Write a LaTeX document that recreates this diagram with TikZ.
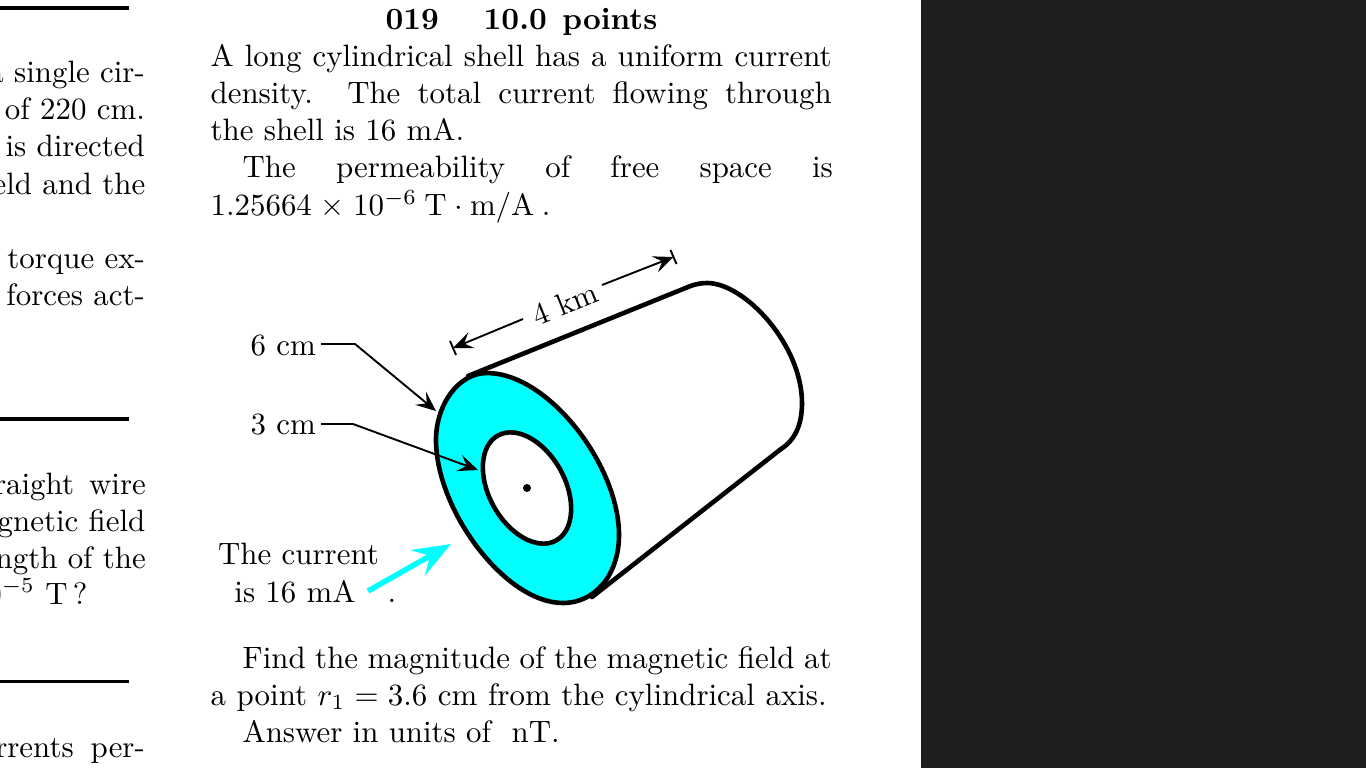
\documentclass[tikz,border=0pt]{standalone}
\usepackage{amsmath}
\usetikzlibrary{calc, arrows.meta}
\definecolor{panel}{HTML}{1E1E1E}
\definecolor{shellcyan}{HTML}{00FFFF}
\newcommand{\fullline}[2][201pt]{\hbox to #1{#2}}
\tikzset{
  bodytext/.style={anchor=base west, inner sep=0pt, scale=3.09},
  lefttext/.style={anchor=base east, inner sep=0pt, scale=3.09},
  midtext/.style={anchor=base, inner sep=0pt, scale=3.09},
  rulebar/.style={line width=3.2pt},
  shellline/.style={line width=4.6pt, line cap=round},
  leader/.style={line width=1.9pt, -{Stealth[length=20pt, width=17pt, inset=8pt]}},
  plainleader/.style={line width=1.9pt}
}
\begin{document}
\begin{tikzpicture}[x=1pt, y=-1pt]
    \useasboundingbox (0,0) rectangle (1366,768);
    \clip (0,0) rectangle (1366,768);
    \fill[panel] (921,0) rectangle (1366,768);

    % Define points
    \coordinate (O) at (527,488);
    \coordinate (P) at (468,376);
    \coordinate (Q) at (688,287);
    \coordinate (R) at (592,597);
    \coordinate (S) at (781,449);
    \coordinate (T1) at (453,348);
    \coordinate (T2) at (673.5,257);

    % Column rules
    \draw[rulebar] (0,8) -- (129,8);
    \draw[rulebar] (0,419) -- (129,419);
    \draw[rulebar] (0,681.5) -- (129,681.5);

    % Left column
    \node (cirA) at (145.5,82) [lefttext] {a single cir-};
    \node (cirB) at (145.5,119) [lefttext] {of 220 cm.};
    \node (cirC) at (145.5,156.5) [lefttext] {is directed};
    \node (cirD) at (146,194) [lefttext] {field and the};
    \node (cirE) at (145.5,268) [lefttext] {torque ex-};
    \node (cirF) at (145.5,305) [lefttext] {forces act-};
    \node (wireA) at (146.5,494) [lefttext] {straight\hspace{4.9pt}wire};
    \node (wireB) at (146,531) [lefttext] {magnetic field};
    \node (wireC) at (146.5,568) [lefttext] {length of the};
    \node (wireD) at (88,604) [lefttext] {$10^{-5}$ T\,?};
    \node (partA) at (145.5,757) [lefttext] {currents\hspace{5.5pt}per-};

    % Problem text
    \node (head) at (385,29.7) [bodytext] {\bfseries 019\hspace{14.5pt}10.0\hspace{5pt}points};
    \node (probA) at (210,66.7) [bodytext] {\fullline{A long cylindrical shell has a uniform current}};
    \node (probB) at (210,103.7) [bodytext] {\fullline{density. The total current flowing through}};
    \node (probC) at (210,140.7) [bodytext] {the shell is 16 mA.};
    \node (probD) at (242,177.7) [bodytext] {\fullline[191pt]{The permeability of free space is}};
    \node (probE) at (210,215.7) [bodytext] {$1.25664\mkern1mu\times\mkern1mu10^{-6}$\hspace{2.3pt}T\hspace{2.4pt}$\cdot$\hspace{2.4pt}m/A\hspace{2.4pt}.};
    \node (findA) at (242,668) [bodytext] {\fullline[190.6pt]{Find the magnitude of the magnetic field at}};
    \node (findB) at (210,705) [bodytext] {\fullline[199.4pt]{a point $r_1=3.6$ cm from the cylindrical axis.}};
    \node (findC) at (242,742) [bodytext] {Answer in units of \ nT.};

    % Draw shell
    \draw[shellline] (Q) -- (P);
    \draw[shellline] (R) -- (S);
    \draw[shellline] (Q) .. controls (694,284.5) and (700,283) .. (707,283)
        .. controls (745,283) and (802,345) .. (802,403)
        .. controls (802,425) and (795,440) .. (S);
    \draw[shellline, fill=shellcyan] (487,373) .. controls (548,373) and (619,465) .. (619,535)
        .. controls (619,575) and (595,603) .. (563,603)
        .. controls (505,603) and (436,510) .. (436,440)
        .. controls (436,405) and (458,373) .. cycle;
    \draw[shellline, fill=white] (O) ellipse [x radius=60, y radius=38, rotate=-61];
    \fill (O) circle (4);

    % Length bar
    \draw[plainleader] ($(T1)+(-3,-7)$) -- ($(T1)+(3,7)$);
    \draw[plainleader] ($(T2)+(-3,-7)$) -- ($(T2)+(3,7)$);
    \node (len) at (565,304) [midtext, anchor=center, rotate=22] {4 km};
    \coordinate (gapA) at (523,319);
    \coordinate (gapB) at (602,285);
    \draw[leader] (gapA) -- (T1);
    \draw[leader] (gapB) -- (T2);

    % Radius labels
    \node (six) at (250,355) [bodytext] {6 cm};
    \node (three) at (250,434) [bodytext] {3 cm};
    \coordinate (sixA) at (321,344);
    \coordinate (sixB) at (355,344);
    \coordinate (sixC) at (436,411);
    \coordinate (threeA) at (321,424);
    \coordinate (threeB) at (353,424);
    \coordinate (threeC) at (478,470);
    \draw[leader] (sixA) -- (sixB) -- (sixC);
    \draw[leader] (threeA) -- (threeB) -- (threeC);

    % Current label
    \node (curA) at (298.5,564.5) [midtext] {The current};
    \node (curB) at (295,602.5) [midtext] {is 16 mA};
    \node (dot) at (392,602.5) [midtext] {.};
    \coordinate (curTail) at (368,591);
    \coordinate (curTip) at (451,544);
    \draw[shellcyan, line width=5.5pt, -{Stealth[length=38pt, width=29pt, inset=14pt]}] (curTail) -- (curTip);
\end{tikzpicture}
\end{document}
